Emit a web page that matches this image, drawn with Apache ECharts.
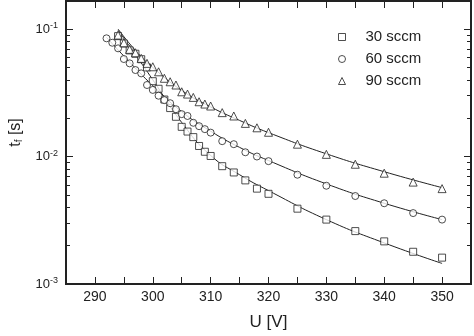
<!DOCTYPE html>
<html><head><meta charset="utf-8">
<script src="https://cdn.jsdelivr.net/npm/echarts@6/dist/echarts.min.js"></script>
<style>html,body{margin:0;padding:0;background:#fff}#c{width:474px;height:336px}</style>
</head><body><div id="c"></div>
<script>
const seriesNames = ['30 sccm', '60 sccm', '90 sccm'];

const u30 = [294,295,296,297,298,299,300,301,302,303,304,305,306,307,308,309,310,312,314,316,318,320,325,330,335,340,345,350];
const t30 = [0.088,0.077,0.068,0.064,0.058,0.050,0.039,0.034,0.028,0.024,0.0205,0.0171,0.0157,0.0142,0.0121,0.0109,0.0101,0.0084,0.0075,0.0065,0.0056,0.0051,0.0039,0.0032,0.0026,0.00216,0.00179,0.00161];

const u60 = [292,293,294,295,296,297,298,299,300,301,302,303,304,305,306,307,308,309,310,312,314,316,318,320,325,330,335,340,345,350];
const t60 = [0.0846,0.0781,0.0706,0.0582,0.0538,0.0477,0.0449,0.0364,0.0333,0.0300,0.0277,0.0262,0.0235,0.0215,0.0208,0.0184,0.0173,0.0164,0.0154,0.0132,0.0125,0.0108,0.0100,0.0092,0.0072,0.0059,0.0049,0.0043,0.0036,0.0032];

const u90 = [294,295,296,297,298,299,300,301,302,303,304,305,306,307,308,309,310,312,314,316,318,320,325,330,335,340,345,350];
const t90 = [0.0897,0.0781,0.0693,0.0652,0.0589,0.0538,0.0506,0.0462,0.0411,0.0386,0.0364,0.0322,0.0309,0.0291,0.0269,0.0258,0.0249,0.0221,0.0208,0.0182,0.0168,0.0155,0.0125,0.0104,0.0087,0.0074,0.0063,0.0056];

// fitted curves
const fitU30 = [294,297,300,305,310,315,320,330,340,350];
const fitT30 = [0.098,0.063,0.040,0.0185,0.0102,0.0072,0.0054,0.0032,0.0021,0.00145];
const fitU60 = [292,296,300,305,310,315,320,330,340,350];
const fitT60 = [0.086,0.055,0.036,0.0225,0.0158,0.0118,0.0093,0.0061,0.0043,0.0032];
const fitU90 = [294,297,300,305,310,315,320,330,340,350];
const fitT90 = [0.100,0.068,0.050,0.033,0.0245,0.0192,0.0154,0.0105,0.0076,0.0057];

const xTickLabels = [290,300,310,320,330,340,350];
const yMajorTicks = [0.001, 0.01, 0.1];
const yExponents = ['-3', '-2', '-1'];
const yMinorTicks = [0.002,0.003,0.004,0.005,0.006,0.007,0.008,0.009,0.02,0.03,0.04,0.05,0.06,0.07,0.08,0.09];

const FONT = 'Liberation Sans, Arial, Helvetica, sans-serif';
const INK = '#222';

const pairs = (xs, ys) => xs.map((x, i) => [x, ys[i]]);

const xBase = {
  type: 'value', min: 285, max: 355, interval: 5,
  axisLine: {show: true, lineStyle: {color: INK, width: 2}},
  axisTick: {show: true, inside: true, length: 7, lineStyle: {color: INK, width: 1}},
  splitLine: {show: false}
};
const yBase = {
  type: 'log', logBase: 10, min: 0.001, max: 0.166,
  axisLine: {show: true, lineStyle: {color: INK, width: 2}},
  splitLine: {show: false}, minorTick: {show: false}
};

const option = {
  animation: false,
  backgroundColor: '#fff',
  grid: {left: 64, right: 1, top: 1, bottom: 52, containLabel: false},
  legend: {
    orient: 'vertical', left: 333, top: 24,
    itemWidth: 7, itemHeight: 7, itemGap: 6,
    data: seriesNames,
    itemStyle: {color: '#fff', borderColor: INK, borderWidth: 1},
    textStyle: {fontFamily: FONT, fontSize: 15, color: INK, lineHeight: 16, padding: [0, 0, 0, 15]}
  },
  xAxis: [
    Object.assign({}, xBase, {
      position: 'bottom',
      name: 'U [V]', nameLocation: 'middle', nameGap: 30,
      nameTextStyle: {fontFamily: FONT, fontSize: 17, color: INK},
      axisLabel: {
        show: true, margin: 6, fontFamily: FONT, fontSize: 14, color: INK,
        formatter: v => (xTickLabels.indexOf(v) >= 0 ? String(v) : '')
      }
    }),
    Object.assign({}, xBase, {position: 'top', axisLabel: {show: false}})
  ],
  yAxis: [
    Object.assign({}, yBase, {
      position: 'left',
      name: '{a|t}{s|f}{a| [s]}', nameLocation: 'middle', nameGap: 42,
      nameTextStyle: {
        fontFamily: FONT, color: INK, padding: [0, 0, 0, 20],
        rich: {a: {fontFamily: FONT, fontSize: 16, color: INK}, s: {fontFamily: FONT, fontSize: 10, color: INK, verticalAlign: 'bottom'}}
      },
      axisTick: {show: true, inside: true, length: 7, customValues: yMajorTicks, lineStyle: {color: INK}},
      axisLabel: {
        show: true, margin: 8, customValues: yMajorTicks,
        formatter: v => {
          let k = 0, best = Infinity;
          yMajorTicks.forEach((m, i) => { const d = Math.abs(m - v); if (d < best) { best = d; k = i; } });
          return '{b|10}{e|' + yExponents[k] + '}';
        },
        rich: {
          b: {fontFamily: FONT, fontSize: 13, color: INK, lineHeight: 16},
          e: {fontFamily: FONT, fontSize: 9, color: INK, verticalAlign: 'top', lineHeight: 9}
        }
      }
    }),
    Object.assign({}, yBase, {
      position: 'left',
      axisTick: {show: true, inside: true, length: 4, customValues: yMinorTicks, lineStyle: {color: INK}},
      axisLabel: {show: false}
    }),
    Object.assign({}, yBase, {
      position: 'right',
      axisTick: {show: true, inside: true, length: 7, customValues: yMajorTicks, lineStyle: {color: INK}},
      axisLabel: {show: false}
    }),
    Object.assign({}, yBase, {
      position: 'right',
      axisTick: {show: true, inside: true, length: 4, customValues: yMinorTicks, lineStyle: {color: INK}},
      axisLabel: {show: false}
    })
  ],
  series: [
    {name: seriesNames[0], type: 'scatter', symbol: 'rect', symbolSize: 7, data: pairs(u30, t30),
     itemStyle: {color: '#fff', borderColor: INK, borderWidth: 1}, z: 3},
    {name: seriesNames[1], type: 'scatter', symbol: 'circle', symbolSize: 7, data: pairs(u60, t60),
     itemStyle: {color: '#fff', borderColor: INK, borderWidth: 1}, z: 3},
    {name: seriesNames[2], type: 'scatter', symbol: 'triangle', symbolSize: 8, data: pairs(u90, t90),
     itemStyle: {color: '#fff', borderColor: INK, borderWidth: 1}, z: 3},
    {name: 'fit30', type: 'line', smooth: true, showSymbol: false, silent: true, data: pairs(fitU30, fitT30),
     lineStyle: {color: INK, width: 1}, z: 2},
    {name: 'fit60', type: 'line', smooth: true, showSymbol: false, silent: true, data: pairs(fitU60, fitT60),
     lineStyle: {color: INK, width: 1}, z: 2},
    {name: 'fit90', type: 'line', smooth: true, showSymbol: false, silent: true, data: pairs(fitU90, fitT90),
     lineStyle: {color: INK, width: 1}, z: 2}
  ]
};

const chart = echarts.init(document.getElementById('c'), null, {renderer: 'canvas'});
chart.setOption(option);
</script>
</body></html>
